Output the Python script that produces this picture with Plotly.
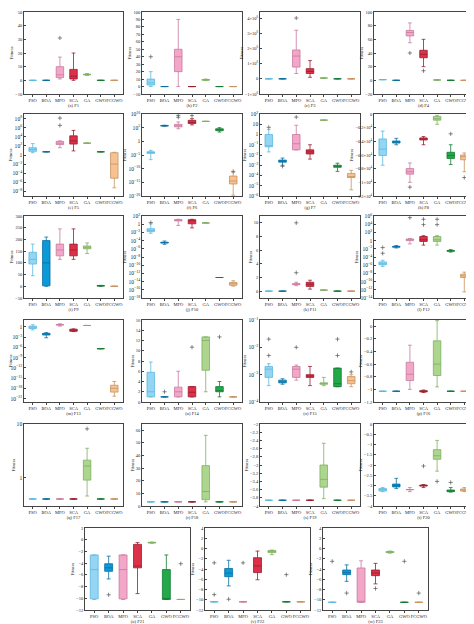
import plotly.graph_objects as go

methods = ["PSO", "BOA", "MFO", "SCA", "GA", "GWO", "FCGWO"]
fills = ["#93d5f3", "#0a9ad8", "#f2a6c8", "#dc3149", "#acd68e", "#23a84a", "#f6c292"]
lines = ["#5cb9e0", "#0a6fa0", "#c97a9e", "#9a1c2c", "#7fae62", "#157a33", "#c8935f"]

# each: [lo, q1, med, q3, hi] per method; log panels give log10 values
F1 = [[0]*5, [0]*5, [1, 2, 4, 10, 17], [0, 1, 3, 8, 20], [3.5, 4, 4.2, 4.5, 5], [0]*5, [0]*5]
F1o = [[], [], [31], [], [], [], []]
F2 = [[0, 2, 5, 10, 20], [0]*5, [0, 20, 40, 50, 90], [0]*5, [8, 8.5, 9, 9.5, 10], [0]*5, [0]*5]
F2o = [[40], [], [], [], [], [], []]
F3 = [[0]*5, [0]*5, [0.35e6, 0.77e6, 1.5e6, 1.9e6, 3.2e6], [0.1e6, 0.35e6, 0.48e6, 0.67e6, 1.2e6],
      [0.05e6]*5, [0]*5, [0]*5]
F3o = [[], [], [4.0e6], [], [], [], []]
F4 = [[1]*5, [0]*5, [55, 65, 70, 73, 84], [20, 33, 38, 44, 60], [0.5]*5, [0]*5, [0]*5]
F4o = [[], [], [40], [14], [], [], []]
F5 = [[0.5, 0.8, 1.2, 1.6, 2.5], [0.7]*5, [1.6, 2.3, 2.6, 3.0, 3.1], [0.9, 2.4, 3.1, 4.2, 5.4],
      [2.6]*5, [0.7]*5, [-7.2, -5.1, -2, 0.5, 0.6]]
F5o = [[], [], [6.5, 8.1], [], [], [], []]
F6 = [[-6.7, -4.4, -4.1, -3.8, -3.3], [5.5, 5.6, 5.7, 5.8, 5.9], [4.6, 5.3, 5.7, 6.2, 7.1],
      [6.0, 6.5, 6.9, 7.7, 8.3], [7.3]*5, [3.4, 3.9, 4.1, 4.6, 5.0], [-19.7, -15.6, -14.5, -12.7, -11.3]]
F6o = [[], [], [8.8, 9.5], [9.4], [], [], [-11]]
F7 = [[-1.7, -1.2, -1.1, 0, 0.5], [-3.0, -2.7, -2.6, -2.5, -2.3], [-1.5, -1.5, -0.9, 0, 0.9],
      [-2.4, -1.9, -1.7, -1.5, -1.0], [1.4]*5, [-3.6, -3.2, -3.1, -3.0, -2.8], [-5.4, -4.2, -4.1, -3.8, -3.5]]
F7o = [[0.7], [-3.1], [1.7], [], [], [], []]
F8 = [[-7500, -6070, -5150, -3650, -2500], [-4500, -4250, -4100, -3950, -3560], [-10000, -8800, -8450, -7990, -7170],
      [-4500, -3800, -3650, -3500, -3300], [-1500, -900, -700, -350, -200], [-7400, -6500, -6070, -5600, -4500],
      [-8450, -6700, -6250, -6000, -5700]]
F8o = [[], [], [-10700], [], [], [-2900], [-9300]]
F9 = [[45, 95, 115, 145, 180], [0, 2, 100, 195, 210], [115, 130, 155, 180, 245], [115, 130, 155, 180, 245],
      [140, 160, 165, 172, 185], [0, 1, 2, 3, 4], [0]*5]
F9o = [[], [], [], [], [], [], []]
F10 = [[-2.2, -1.8, -1.5, -1.1, 0.1], [-4.9, -4.6, -4.5, -4.4, -4.1], [-0.3, 0.8, 1.0, 1.1, 1.2],
       [-0.9, 0.1, 0.8, 1.1, 1.2], [0.3]*5, [-13]*5, [-15.1, -14.9, -14.5, -14.2, -13.8]]
F10o = [[0.4], [], [], [], [], [], []]
F11 = [[0]*5, [0]*5, [0.8, 0.95, 1.05, 1.1, 1.3], [0.3, 0.7, 1.0, 1.3, 1.6], [0.15]*5, [0]*5, [0]*5]
F11o = [[], [], [2.7, 10], [], [], [], []]
F12 = [[-6.3, -5.9, -5.7, -5.2, -4.8], [-1.8, -1.6, -1.5, -1.4, -1.2], [-0.8, 0, 0.2, 0.4, 0.5],
       [-1.1, -0.2, 0.2, 1.0, 1.2], [-1.1, -0.2, 0.2, 1.0, 1.2], [-2.8, -2.6, -2.5, -2.4, -2.2],
       [-12.5, -9.0, -8.6, -8.2, -7.7]]
F12o = [[-1.7, -3.1], [], [5.6], [5.2, 3.9], [5.2, 3.9], [], []]
F13 = [[-0.9, -0.5, -0.1, 0.2, 0.6], [-3.2, -2.4, -2.1, -1.9, -1.7], [0.2, 0.5, 0.6, 0.7, 0.9],
       [-1.4, -1.3, -1.0, -0.7, -0.6], [0.4]*5, [-6.4]*5, [-20.3, -19.1, -18.0, -17.1, -16.0]]
F13o = [[], [], [], [], [], [], []]
F14 = [[1, 1, 2, 5.8, 7.8], [1]*5, [1, 1, 2, 2.9, 6], [1, 1, 1.9, 3, 3], [2, 6.2, 12, 12.7, 12.7],
       [1, 2, 2, 3, 4], [1]*5]
F14o = [[], [2], [], [10.7], [], [12.7], []]
F15 = [[-3.4, -3.1, -2.8, -2.7, -2.6], [-3.35, -3.3, -3.27, -3.2, -3.15], [-3.2, -3.1, -2.8, -2.7, -2.65],
       [-3.4, -3.1, -3.05, -3.0, -2.7], [-3.4, -3.35, -3.33, -3.3, -3.1], [-3.44, -3.44, -3.33, -2.76, -2.76],
       [-3.44, -3.33, -3.22, -3.07, -3.0]]
F15o = [[-1.7, -2.3], [], [-2.0], [], [], [-1.7, -2.3], [-2.9]]
F16 = [[-1.03]*5, [-1.03]*5, [-1.0, -0.86, -0.76, -0.57, -0.3], [-1.05, -1.04, -1.03, -1.02, -1.01],
       [-0.96, -0.78, -0.6, -0.23, 0.09], [-1.03]*5, [-1.03]*5]
F16o = [[], [], [], [], [], [], []]
F17 = [[-0.39]*5, [-0.39]*5, [-0.39]*5, [-0.39]*5, [-0.335, -0.04, 0.22, 0.33, 0.55], [-0.39]*5, [-0.39]*5]
F17o = [[], [], [], [], [0.91], [], []]
F18 = [[3.3]*5, [3.3]*5, [3.3]*5, [3.3]*5, [3.3, 5, 11.5, 32, 56], [3.3]*5, [3.3]*5]
F18o = [[], [], [], [], [], [], []]
F19 = [[-3.86]*5, [-3.86]*5, [-3.86]*5, [-3.86]*5, [-3.82, -3.54, -3.35, -3.0, -2.47], [-3.86]*5, [-3.86]*5]
F19o = [[], [], [], [], [], [], []]
F20 = [[-3.3, -3.27, -3.2, -3.15, -3.1], [-3.15, -3.07, -3.0, -2.93, -2.65], [-3.3, -3.2, -3.2, -3.2, -3.1],
       [-3.1, -3.03, -3.0, -2.98, -2.95], [-2.3, -1.72, -1.55, -1.25, -0.8], [-3.32, -3.3, -3.27, -3.22, -3.1],
       [-3.3, -3.27, -3.2, -3.17, -3.1]]
F20o = [[], [], [], [-2.05], [-2.8], [-2.85], []]
F21 = [[-10.2, -10.1, -5.1, -2.6, -2.6], [-6.7, -5.4, -4.8, -4.1, -2.8], [-10.2, -10.1, -5.1, -2.6, -2.6],
       [-9.2, -4.8, -4.5, -0.8, -0.5], [-0.6, -0.55, -0.5, -0.45, -0.4], [-10.2, -10.2, -10.1, -5.1, -2.6],
       [-10.2]*5]
F21o = [[], [-9.4], [], [], [], [], [-4.1]]
F22 = [[-10.4]*5, [-7.3, -5.5, -4.8, -3.9, -2.3], [-10.4]*5, [-6.1, -4.7, -3.4, -1.8, -0.5],
       [-1.2, -0.8, -0.6, -0.4, -0.3], [-10.4]*5, [-10.4]*5]
F22o = [[-2.8, -9.0], [-9.9], [-2.8], [], [], [-5.1], []]
F23 = [[-10.5]*5, [-6.4, -5.1, -4.7, -4.2, -3.2], [-10.5, -10.5, -10.4, -3.8, -2.4], [-6.9, -5.3, -4.8, -4.2, -2.9],
       [-0.9, -0.8, -0.7, -0.6, -0.5], [-10.5]*5, [-10.5]*5]
F23o = [[-2.5], [-8.7], [], [-7.8], [], [-2.5], [-8.7]]

panels = [
    ("(a) F1", F1, F1o, False, [-10, 50], 10),
    ("(b) F2", F2, F2o, False, [-10, 100], 10),
    ("(c) F3", F3, F3o, False, [-1e6, 4.4e6], 1e6),
    ("(d) F4", F4, F4o, False, [-20, 100], 20),
    ("(e) F5", F5, F5o, True, [-9, 9], 2),
    ("(f) F6", F6, F6o, True, [-20, 10], 5),
    ("(g) F7", F7, F7o, True, [-6, 2], 1),
    ("(h) F8", F8, F8o, False, [-12000, 0], 2000),
    ("(i) F9", F9, F9o, False, [-50, 300], 50),
    ("(j) F10", F10, F10o, True, [-18, 2], 2),
    ("(k) F11", F11, F11o, False, [-1, 11], 2),
    ("(l) F12", F12, F12o, True, [-14, 6], 2),
    ("(m) F13", F13, F13o, True, [-22, 2], 3),
    ("(n) F14", F14, F14o, False, [0, 16], 2),
    ("(o) F15", F15, F15o, True, [-4, -1], 1),
    ("(p) F16", F16, F16o, False, [-1.2, 0.1], 0.2),
    ("(q) F17", F17, F17o, True, [-0.52, 1], 1),
    ("(r) F18", F18, F18o, False, [0, 65], 10),
    ("(s) F19", F19, F19o, False, [-4, -2], 0.2),
    ("(t) F20", F20, F20o, False, [-4, 0], 0.5),
    ("(u) F21", F21, F21o, False, [-12, 2], 2),
    ("(v) F22", F22, F22o, False, [-12, 4], 2),
    ("(w) F23", F23, F23o, False, [-12, 4], 2),
]

W, H = 474, 624
rows = [(4, 86), (106, 188), (208, 290), (312, 394), (416, 498), (520, 602)]
cols = [(16, 115), (134, 234), (252, 352), (366, 465)]
cols6 = [(77, 182), (197, 302), (315, 420)]

fig = go.Figure()
layout = {}
font = dict(family="Liberation Serif", size=4.5, color="#222")
for i, (lab, data, outl, islog, rng, dt) in enumerate(panels):
    r, c = divmod(i, 4)
    x0, x1 = (cols6[c] if r == 5 else cols[c])
    y0, y1 = rows[r]
    n = i + 1
    xa, ya = ("x" if n == 1 else f"x{n}"), ("y" if n == 1 else f"y{n}")
    conv = (lambda v: 10 ** v) if islog else (lambda v: v)
    for k, m in enumerate(methods):
        lo, q1, md, q3, hi = [conv(v) for v in data[k]]
        fig.add_trace(go.Box(x=[m], q1=[q1], median=[md], q3=[q3], lowerfence=[lo], upperfence=[hi],
                             fillcolor=fills[k], line=dict(color=lines[k], width=0.8), width=0.55,
                             whiskerwidth=0.5, showlegend=False, xaxis=xa, yaxis=ya, hoverinfo="skip"))
        if outl[k]:
            fig.add_trace(go.Scatter(x=[m] * len(outl[k]), y=[conv(v) for v in outl[k]], mode="markers",
                                     marker=dict(symbol="cross-thin", size=3, line=dict(width=0.7, color="#555")),
                                     showlegend=False, xaxis=xa, yaxis=ya))
    xkey = "xaxis" if n == 1 else f"xaxis{n}"
    ykey = "yaxis" if n == 1 else f"yaxis{n}"
    layout[xkey] = dict(domain=[x0 / W, x1 / W], anchor=ya, categoryorder="array", categoryarray=methods,
                        showline=True, mirror=True, linecolor="#444", linewidth=0.8, ticks="outside", ticklen=2,
                        tickangle=0, tickfont=font, title=dict(text=lab, font=font, standoff=0),
                        showgrid=False, automargin=False)
    yd = dict(domain=[1 - y1 / H, 1 - y0 / H], anchor=xa, showline=True, mirror=True, linecolor="#444",
              linewidth=0.8, ticks="inside", ticklen=2, tickfont=font, showgrid=False, zeroline=False,
              title=dict(text="Fitness", font=font, standoff=1), range=rng, dtick=dt, automargin=False)
    if islog:
        yd.update(type="log", exponentformat="power")
    elif abs(rng[1]) >= 1000 or abs(rng[0]) >= 1000:
        yd.update(exponentformat="power")
    layout[ykey] = yd

fig.update_layout(width=W, height=H, margin=dict(l=0, r=0, t=0, b=0), plot_bgcolor="white",
                  paper_bgcolor="white", boxmode="overlay", **layout)
fig.write_html("out.html")
